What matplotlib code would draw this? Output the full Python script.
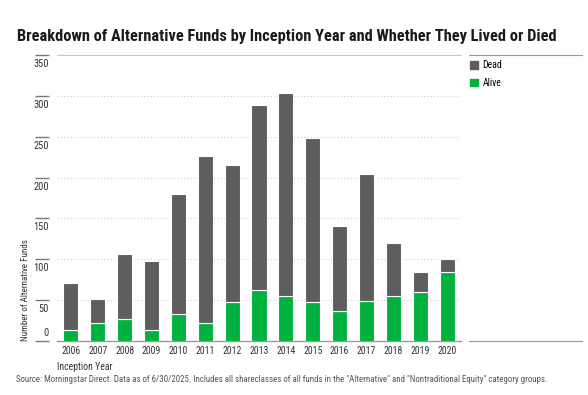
import matplotlib
matplotlib.use("Agg")
import matplotlib.pyplot as plt
from matplotlib.patches import Patch
from matplotlib.transforms import ScaledTranslation

# data
years = ["2006", "2007", "2008", "2009", "2010", "2011", "2012", "2013",
         "2014", "2015", "2016", "2017", "2018", "2019", "2020"]
alive = [14, 22, 27, 14, 33, 22, 48, 62, 55, 48, 37, 49, 55, 60, 84]
dead = [57, 29, 80, 84, 147, 205, 167, 227, 248, 200, 104, 155, 65, 25, 16]
y_ticks = [0, 50, 100, 150, 200, 250, 300, 350]

DEAD_COLOR = "#5e5e5e"
ALIVE_COLOR = "#00b140"
TEXT_COLOR = "#333333"

plt.rcParams["font.family"] = ["Roboto Condensed", "DejaVu Sans"]

fig = plt.figure(figsize=(5.88, 3.95), dpi=100)
ax = fig.add_axes([57 / 588, 1 - 341 / 395, 404 / 588, 286 / 395])
leg_ax = fig.add_axes([469 / 588, 1 - 341 / 395, 113 / 588, 286 / 395])

x = range(len(years))
ax.bar(x, alive, width=0.56, color=ALIVE_COLOR, edgecolor="white", linewidth=0.8, zorder=3)
ax.bar(x, dead, width=0.56, bottom=alive, color=DEAD_COLOR, edgecolor="white", linewidth=0.8, zorder=3)

ax.set_xlim(-0.52, len(years) - 0.48)
ax.set_ylim(0, 350)

# dotted grid, solid top line
for v in y_ticks[1:-1]:
    ax.axhline(v, color="#cfcfcf", linestyle=(0, (1, 2)), linewidth=0.8, zorder=1)
for side in ["left", "right"]:
    ax.spines[side].set_visible(False)
ax.spines["top"].set_color("#c8c8c8")
ax.spines["bottom"].set_color("#9a9a9a")
ax.spines["bottom"].set_linewidth(1.0)

# y ticks: short marks left of the plot, labels just under them
ax.set_yticks(y_ticks)
ax.set_yticklabels([str(t) for t in y_ticks])
ax.tick_params(axis="y", length=0, pad=8 * 0.72, labelsize=7.5, labelcolor=TEXT_COLOR)
ax.hlines(y_ticks, -0.054, -0.02, transform=ax.get_yaxis_transform(),
          color="#7a7a7a", linewidth=1, clip_on=False)
for t, lab in zip(y_ticks, ax.get_yticklabels()):
    dy = 9 if t == 0 else -8
    lab.set_transform(lab.get_transform() + ScaledTranslation(0, dy / 100, fig.dpi_scale_trans))

ax.set_xticks(list(x))
ax.set_xticklabels(years)
ax.tick_params(axis="x", length=0, pad=3.5, labelsize=7, labelcolor=TEXT_COLOR)

ax.set_xlabel("Inception Year", fontsize=7, color=TEXT_COLOR, loc="left")
ax.xaxis.set_label_coords(0, -0.072)
ax.set_ylabel("Number of Alternative Funds", fontsize=6.5, color=TEXT_COLOR, loc="bottom")
ax.yaxis.set_label_coords(-0.066, 0)

# legend panel
leg_ax.set_xticks([])
leg_ax.set_yticks([])
for side in ["left", "right"]:
    leg_ax.spines[side].set_visible(False)
for side in ["top", "bottom"]:
    leg_ax.spines[side].set_color("#9a9a9a")
handles = [Patch(color=DEAD_COLOR, label="Dead"), Patch(color=ALIVE_COLOR, label="Alive")]
leg_ax.legend(handles=handles, loc="upper left", bbox_to_anchor=(0, 0.985), frameon=False,
              fontsize=7, handlelength=0.8, handleheight=0.8, handletextpad=0.5,
              labelspacing=0.8, borderaxespad=0, borderpad=0.1)

fig.text(17 / 588, 1 - 41 / 395, "Breakdown of Alternative Funds by Inception Year and Whether They Lived or Died",
         fontsize=11.75, fontweight="bold", color="#1a1a1a", va="baseline")
fig.text(16 / 588, 1 - 380 / 395,
         'Source: Morningstar Direct. Data as of 6/30/2025. Includes all shareclasses of all funds in the '
         '"Alternative" and "Nontraditional Equity" category groups.',
         fontsize=6.4, color="#555555", va="center")

fig.savefig("out.png", dpi=100)
